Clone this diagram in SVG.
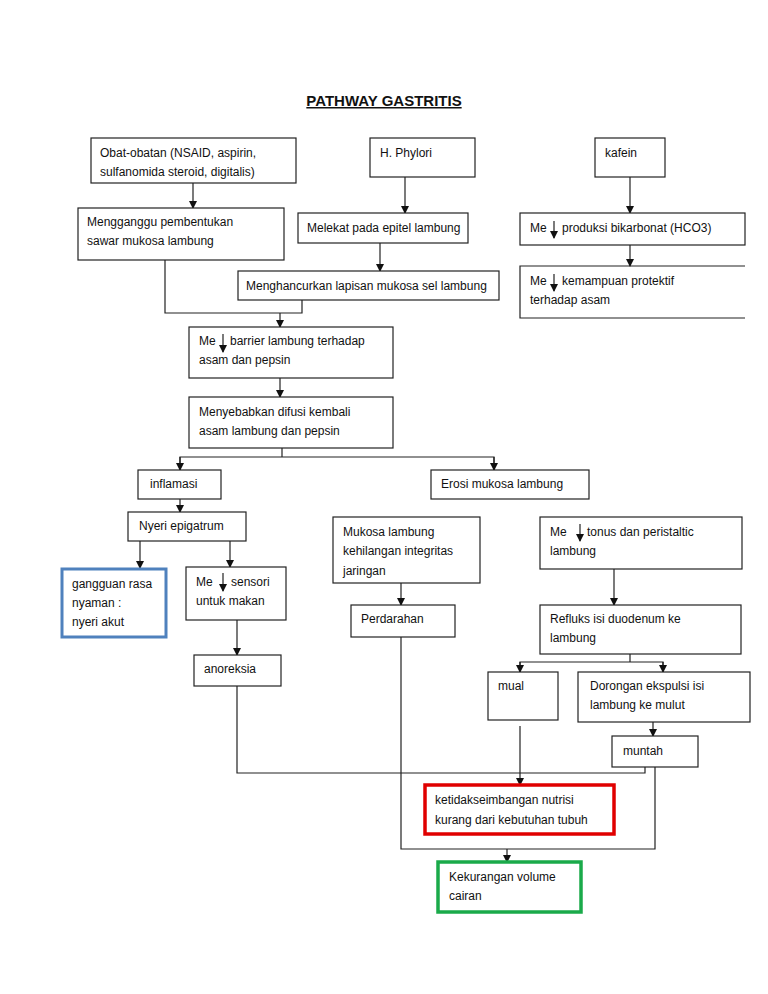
<svg xmlns="http://www.w3.org/2000/svg" width="768" height="994" viewBox="0 0 768 994">
<style>
text{font-family:"Liberation Sans",Arial,sans-serif;font-size:12px;fill:#111}
.b{fill:#fff;stroke:#222;stroke-width:1.2}
.c{fill:none;stroke:#222;stroke-width:1.2}
.t{font-size:15px;font-weight:bold;text-decoration:underline}
</style>
<defs>
<marker id="a" markerWidth="8" markerHeight="8" refX="7" refY="4" orient="auto" markerUnits="userSpaceOnUse"><path d="M0,0 L8,4 L0,8 z" fill="#111"/></marker>
<marker id="s" markerWidth="8" markerHeight="8" refX="7" refY="4" orient="auto" markerUnits="userSpaceOnUse"><path d="M0,0 L8,4 L0,8 z" fill="#111"/></marker>
</defs>
<text class="t" x="384" y="106" text-anchor="middle">PATHWAY GASTRITIS</text>
<g id="connectors">
<path class="c" d="M193,183 V208" marker-end="url(#a)"/>
<path class="c" d="M405,177 V213" marker-end="url(#a)"/>
<path class="c" d="M630,177 V213" marker-end="url(#a)"/>
<path class="c" d="M380,243 V271" marker-end="url(#a)"/>
<path class="c" d="M630,245 V266" marker-end="url(#a)"/>
<path class="c" d="M165,260 V313 H302 V300"/>
<path class="c" d="M280,313 V327" marker-end="url(#a)"/>
<path class="c" d="M280,378 V397" marker-end="url(#a)"/>
<path class="c" d="M282,448 V457"/>
<path class="c" d="M180,470 V457 H494 V470"/>
<path class="c" d="M180,457 V470" marker-end="url(#a)"/>
<path class="c" d="M494,457 V470" marker-end="url(#a)"/>
<path class="c" d="M180,499 V512" marker-end="url(#a)"/>
<path class="c" d="M140,541 V568" marker-end="url(#a)"/>
<path class="c" d="M230,541 V567" marker-end="url(#a)"/>
<path class="c" d="M237,620 V655" marker-end="url(#a)"/>
<path class="c" d="M401,583 V605" marker-end="url(#a)"/>
<path class="c" d="M614,569 V605" marker-end="url(#a)"/>
<path class="c" d="M630,654 V662"/>
<path class="c" d="M520,672 V662 H663 V672"/>
<path class="c" d="M520,662 V672" marker-end="url(#a)"/>
<path class="c" d="M663,662 V672" marker-end="url(#a)"/>
<path class="c" d="M653,722 V736" marker-end="url(#a)"/>
<path class="c" d="M237,686 V773 H645 V767"/>
<path class="c" d="M520,726 V785" marker-end="url(#a)"/>
<path class="c" d="M401,637 V849 H655 V767"/>
<path class="c" d="M507,849 V862" marker-end="url(#a)"/>
</g>
<g id="obat"><rect class="b" x="91" y="138" width="205" height="45"/><text x="100" y="157">Obat-obatan (NSAID, aspirin,</text><text x="100" y="176">sulfanomida steroid, digitalis)</text></g>
<g id="hpylori"><rect class="b" x="370" y="138" width="105" height="39"/><text x="380" y="157">H. Phylori</text></g>
<g id="kafein"><rect class="b" x="595" y="138" width="70" height="39"/><text x="605" y="157">kafein</text></g>
<g id="mengganggu"><rect class="b" x="78" y="208" width="206" height="52"/><text x="87" y="226">Mengganggu pembentukan</text><text x="87" y="245">sawar mukosa lambung</text></g>
<g id="melekat"><rect class="b" x="298" y="213" width="170" height="30"/><text x="307" y="232">Melekat pada epitel lambung</text></g>
<g id="produksi"><rect class="b" x="520" y="213" width="225" height="32"/><text x="530" y="232">Me</text><path class="c" d="M554,221 V238" marker-end="url(#s)"/><text x="562" y="232">produksi bikarbonat (HCO3)</text></g>
<g id="kemampuan"><path class="c" d="M745,266 H520 V318 H745"/><text x="530" y="285">Me</text><path class="c" d="M554,274 V291" marker-end="url(#s)"/><text x="562" y="285">kemampuan protektif</text><text x="530" y="304">terhadap asam</text></g>
<g id="menghancurkan"><rect class="b" x="238" y="271" width="261" height="29"/><text x="246" y="290">Menghancurkan lapisan mukosa sel lambung</text></g>
<g id="barrier"><rect class="b" x="189" y="327" width="204" height="51"/><text x="199" y="345">Me</text><path class="c" d="M223,334 V352" marker-end="url(#s)"/><text x="230" y="345">barrier lambung terhadap</text><text x="199" y="364">asam dan pepsin</text></g>
<g id="difusi"><rect class="b" x="189" y="397" width="204" height="51"/><text x="199" y="416">Menyebabkan difusi kembali</text><text x="199" y="435">asam lambung dan pepsin</text></g>
<g id="inflamasi"><rect class="b" x="138" y="470" width="83" height="29"/><text x="150" y="488">inflamasi</text></g>
<g id="erosi"><rect class="b" x="431" y="470" width="158" height="29"/><text x="441" y="488">Erosi mukosa lambung</text></g>
<g id="nyeri"><rect class="b" x="128" y="512" width="118" height="29"/><text x="139" y="530">Nyeri epigatrum</text></g>
<g id="gangguan"><rect x="62" y="569" width="104" height="68" fill="#fff" stroke="#4f81bd" stroke-width="3"/><text x="72" y="588">gangguan rasa</text><text x="72" y="607">nyaman :</text><text x="72" y="626">nyeri akut</text></g>
<g id="sensori"><rect class="b" x="186" y="567" width="100" height="53"/><text x="196" y="586">Me</text><path class="c" d="M223,573 V591" marker-end="url(#s)"/><text x="231" y="586">sensori</text><text x="196" y="605">untuk makan</text></g>
<g id="anoreksia"><rect class="b" x="194" y="655" width="87" height="31"/><text x="204" y="673">anoreksia</text></g>
<g id="mukosa"><rect class="b" x="333" y="517" width="147" height="66"/><text x="343" y="536">Mukosa lambung</text><text x="343" y="555">kehilangan integritas</text><text x="343" y="575">jaringan</text></g>
<g id="perdarahan"><rect class="b" x="351" y="605" width="104" height="32"/><text x="361" y="623">Perdarahan</text></g>
<g id="tonus"><rect class="b" x="540" y="517" width="202" height="52"/><text x="550" y="536">Me</text><path class="c" d="M580,524 V541" marker-end="url(#s)"/><text x="587" y="536">tonus dan peristaltic</text><text x="550" y="555">lambung</text></g>
<g id="refluks"><rect class="b" x="540" y="605" width="201" height="49"/><text x="550" y="623">Refluks isi duodenum ke</text><text x="550" y="642">lambung</text></g>
<g id="mual"><rect class="b" x="488" y="672" width="70" height="48"/><text x="498" y="690">mual</text></g>
<g id="dorongan"><rect class="b" x="578" y="672" width="172" height="50"/><text x="590" y="690">Dorongan ekspulsi isi</text><text x="590" y="709">lambung ke mulut</text></g>
<g id="muntah"><rect class="b" x="612" y="736" width="86" height="31"/><text x="623" y="755">muntah</text></g>
<g id="nutrisi"><rect x="425" y="785" width="189" height="49" fill="#fff" stroke="#e00000" stroke-width="3.5"/><text x="435" y="804">ketidakseimbangan nutrisi</text><text x="435" y="824">kurang dari kebutuhan tubuh</text></g>
<g id="volume"><rect x="438" y="862" width="143" height="50" fill="#fff" stroke="#1aaa4a" stroke-width="3.5"/><text x="449" y="881">Kekurangan volume</text><text x="449" y="900">cairan</text></g>
</svg>
